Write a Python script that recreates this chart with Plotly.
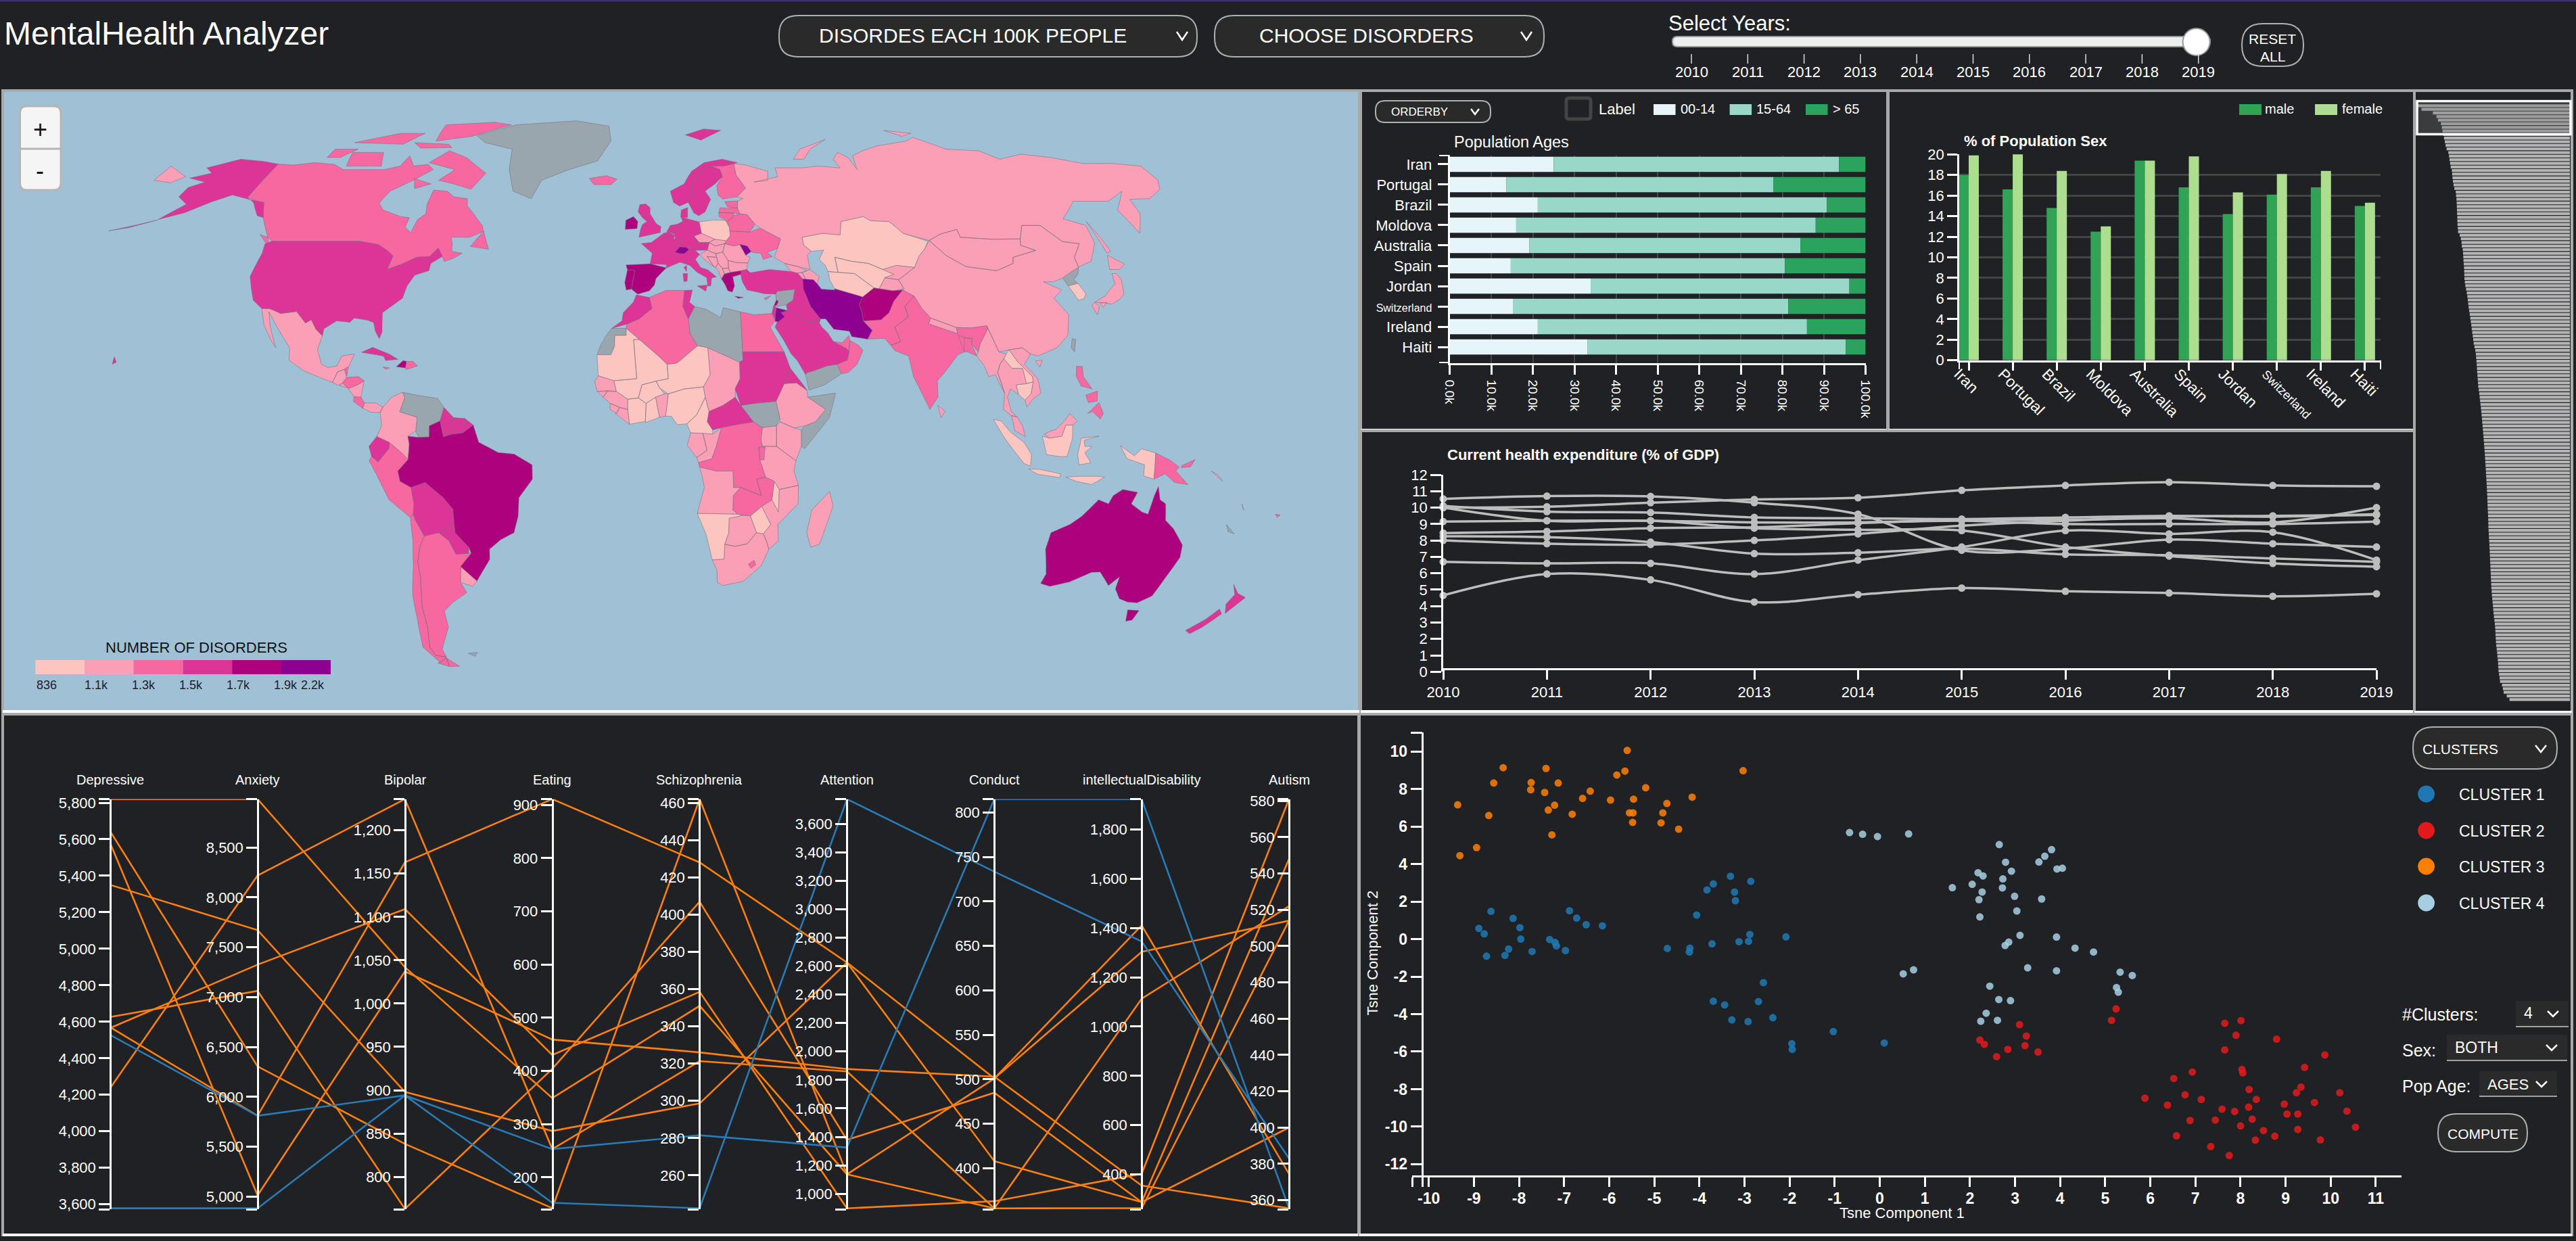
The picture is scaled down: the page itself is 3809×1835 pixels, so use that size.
import plotly.graph_objects as go

W = 3809
H = 1835
BG = "#202124"
FONT = "Liberation Sans"

# population ages
countries = ["Iran", "Portugal", "Brazil", "Moldova", "Australia", "Spain", "Jordan", "Switzerland", "Ireland", "Haiti"]
age_00_14 = [25.0, 13.6, 21.2, 16.0, 19.2, 14.7, 33.9, 15.2, 21.2, 33.1]
age_15_64 = [68.6, 64.2, 69.5, 72.0, 65.1, 65.9, 62.2, 66.2, 64.7, 62.1]
age_over_65 = [6.4, 22.2, 9.3, 12.0, 15.7, 19.4, 3.9, 18.6, 14.1, 4.8]
age_ticks = [0, 10, 20, 30, 40, 50, 60, 70, 80, 90, 100]
age_tick_labels = ["0.0k", "10.0k", "20.0k", "30.0k", "40.0k", "50.0k", "60.0k", "70.0k", "80.0k", "90.0k", "100.0k"]

# population sex
sex_male = [18.0, 16.6, 14.8, 12.5, 19.4, 16.8, 14.2, 16.1, 16.8, 15.0]
sex_female = [19.9, 20.1, 18.4, 13.0, 19.4, 19.8, 16.3, 18.1, 18.4, 15.3]

# health expenditure
years = [2010, 2011, 2012, 2013, 2014, 2015, 2016, 2017, 2018, 2019]
health_lines = [
    [10.0, 10.05, 10.3, 10.5, 10.6, 11.05, 11.35, 11.55, 11.35, 11.3],
    [10.53, 10.7, 10.68, 10.3, 9.6, 7.4, 7.5, 8.05, 7.8, 7.6],
    [10.1, 9.75, 9.7, 9.4, 9.35, 9.3, 9.4, 9.5, 9.45, 9.6],
    [10.0, 9.2, 9.2, 8.75, 8.65, 8.6, 7.6, 7.05, 6.6, 6.4],
    [9.15, 9.2, 9.2, 9.1, 9.1, 9.2, 9.0, 9.0, 9.0, 9.15],
    [8.45, 8.55, 8.75, 8.8, 9.05, 9.25, 9.25, 9.35, 9.1, 10.0],
    [8.25, 8.2, 7.9, 7.2, 7.25, 7.5, 7.15, 7.1, 6.9, 6.7],
    [8.0, 7.8, 7.75, 8.0, 8.4, 8.9, 9.2, 9.45, 9.5, 9.55],
    [6.7, 6.6, 6.6, 5.95, 6.8, 7.6, 8.6, 8.4, 8.5, 6.8],
    [4.65, 5.95, 5.6, 4.25, 4.7, 5.1, 4.9, 4.8, 4.6, 4.75],
]

# ranking at the right, one bar per country
ranking = [
    2200, 2136, 1973, 1921, 1899, 1857, 1844, 1834, 1825, 1812, 1801, 1790, 1775, 1750, 1740, 1733, 1724, 1716,
    1700, 1695, 1690, 1684, 1675, 1663, 1642, 1638, 1633, 1630, 1628, 1626, 1624, 1621, 1620, 1618, 1613, 1610,
    1586, 1570, 1560, 1556, 1542, 1538, 1535, 1532, 1528, 1524, 1522, 1520, 1518, 1512, 1506, 1495, 1484, 1476,
    1470, 1464, 1458, 1450, 1442, 1434, 1427, 1419, 1413, 1406, 1399, 1392, 1385, 1374, 1362, 1354, 1350, 1345,
    1341, 1338, 1335, 1331, 1327, 1323, 1320, 1312, 1305, 1299, 1293, 1287, 1281, 1276, 1271, 1266, 1262, 1257,
    1253, 1248, 1244, 1240, 1236, 1232, 1228, 1224, 1221, 1218, 1214, 1211, 1208, 1205, 1202, 1199, 1196, 1194,
    1191, 1189, 1187, 1185, 1183, 1180, 1178, 1176, 1175, 1173, 1171, 1168, 1165, 1162, 1159, 1157, 1154, 1152,
    1150, 1147, 1145, 1143, 1140, 1138, 1135, 1133, 1131, 1127, 1123, 1118, 1113, 1108, 1104, 1099, 1093, 1087,
    1081, 1076, 1073, 1071, 1068, 1065, 1060, 1054, 1048, 1044, 1038, 1034, 1031, 1027, 1020, 1012, 1006, 978,
    965, 954, 910, 870,
]

# parallel coordinates, one column per disorder
dimensions = ["Depressive", "Anxiety", "Bipolar", "Eating", "Schizophrenia", "Attention", "Conduct", "intellectualDisability", "Autism"]
dim_ranges = [[3573, 5820], [4873, 8985], [762.6, 1236], [140, 911], [241.8, 462], [892, 3773], [354, 815], [259, 1922.6], [355, 581]]
dim_ticks = [
    [3600, 3800, 4000, 4200, 4400, 4600, 4800, 5000, 5200, 5400, 5600, 5800],
    [5000, 5500, 6000, 6500, 7000, 7500, 8000, 8500],
    [800, 850, 900, 950, 1000, 1050, 1100, 1150, 1200],
    [200, 300, 400, 500, 600, 700, 800, 900],
    [260, 280, 300, 320, 340, 360, 380, 400, 420, 440, 460],
    [1000, 1200, 1400, 1600, 1800, 2000, 2200, 2400, 2600, 2800, 3000, 3200, 3400, 3600],
    [400, 450, 500, 550, 600, 650, 700, 750, 800],
    [400, 600, 800, 1000, 1200, 1400, 1600, 1800],
    [360, 380, 400, 420, 440, 460, 480, 500, 520, 540, 560, 580],
]
parallel_lines = [
    [5820, 8985, 1042, 349, 351, 1137, 501, 1410, 374.5],
    [5643, 6305, 838, 142, 462, 1137, 355, 1113, 522],
    [5578, 5012, 1037, 459, 326, 1877, 503, 355, 355.5],
    [5350, 7671, 898, 287, 298.6, 2625, 501, 1303, 514],
    [4626, 7062, 763, 404, 406.9, 1379, 485, 288, 400],
    [4566, 7325, 1109, 430, 358.5, 898, 363, 403, 581],
    [4570, 5810, 1163, 911, 428, 2625, 408, 288, 548],
    [4237, 8219, 1236, 253, 321.3, 1860, 355, 263, 514],
    [4528, 5810, 894, 253, 281.5, 1325, 815, 1922, 355.5],
    [3578, 4882, 894, 152, 242.3, 3773, 733.5, 1345, 383],
]
parallel_colors = ["#ff7f0e"] * 8 + ["#2a7ab5"] * 2

# tsne clusters
cluster_1_x = [-8.62, -8.89, -8.77, -8.72, -8.31, -8.23, -8.13, -7.98, -7.96, -7.71, -7.32, -7.20, -7.17, -6.97, -6.88, -6.72, -6.51, -6.15, -4.71, -4.21, -4.22, -4.06, -3.83, -3.69, -3.72, -3.31, -3.22, -3.20, -2.86, -2.88, -2.91, -3.12, -2.08, -3.69, -3.44, -3.28, -2.92, -2.69, -2.58, -2.37, -1.95, -1.94, -1.03, 0.10]
cluster_1_y = [1.48, 0.57, 0.28, -0.91, -0.87, -0.53, 1.10, 0.61, 0.0, -0.66, -0.02, -0.18, -0.36, -0.61, 1.51, 1.12, 0.77, 0.71, -0.50, -0.48, -0.69, 1.28, 2.62, 2.94, -0.25, 3.35, 2.51, 2.05, 3.08, 0.25, -0.12, -0.14, 0.12, -3.31, -3.51, -4.31, -4.40, -3.33, -2.32, -4.19, -5.58, -5.88, -4.93, -5.54]
cluster_2_x = [3.10, 3.25, 2.22, 2.32, 3.22, 2.84, 3.51, 2.59, 5.24, 5.14, 5.88, 6.38, 7.65, 8.01, 7.90, 8.80, 7.65, 9.87, 9.42, 8.03, 8.05, 6.52, 6.93, 8.19, 6.77, 7.13, 8.35, 9.34, 9.24, 10.20, 8.97, 9.64, 7.59, 7.87, 8.18, 9.03, 9.27, 10.36, 6.88, 7.44, 8.26, 8.00, 10.55, 8.51, 9.27, 6.58, 8.76, 8.33, 9.77, 7.34, 7.75]
cluster_2_y = [-4.56, -5.17, -5.38, -5.61, -5.68, -5.88, -6.02, -6.27, -3.72, -4.33, -8.48, -8.85, -4.49, -4.35, -5.13, -5.33, -5.91, -6.18, -6.84, -6.95, -7.13, -7.43, -7.09, -8.02, -8.30, -8.55, -8.55, -7.89, -8.19, -8.19, -8.80, -8.71, -9.07, -9.19, -8.96, -9.33, -9.33, -9.17, -9.67, -9.65, -9.60, -9.96, -10.03, -10.21, -10.15, -10.49, -10.51, -10.72, -10.71, -11.06, -11.54]
cluster_3_x = [-9.36, -9.31, -8.94, -8.67, -8.56, -8.35, -7.74, -7.73, -7.40, -7.43, -7.35, -7.27, -7.21, -7.13, -6.82, -6.59, -6.42, -5.97, -5.83, -5.65, -5.60, -5.55, -5.47, -5.46, -5.48, -5.19, -4.85, -4.81, -4.72, -4.46, -4.16, -3.03]
cluster_3_y = [7.16, 4.45, 4.88, 6.59, 8.32, 9.14, 7.96, 8.35, 9.10, 7.82, 6.88, 5.56, 7.14, 8.32, 6.66, 7.50, 7.89, 7.41, 8.75, 8.96, 10.06, 6.73, 6.73, 7.46, 6.22, 8.07, 6.20, 6.73, 7.23, 5.86, 7.57, 8.98]
cluster_4_x = [-0.67, -0.38, -0.05, 0.64, 2.65, 2.79, 3.81, 3.66, 3.53, 3.93, 4.05, 2.92, 2.18, 2.29, 2.73, 2.05, 1.61, 2.72, 2.27, 2.99, 2.20, 3.59, 3.04, 2.22, 3.11, 3.92, 2.86, 2.78, 4.33, 4.74, 3.28, 3.92, 0.75, 0.52, 5.33, 5.60, 2.44, 5.25, 5.29, 2.64, 2.90, 2.36, 2.24, 2.61]
cluster_4_y = [5.68, 5.59, 5.47, 5.61, 5.04, 4.10, 4.77, 4.42, 4.11, 3.74, 3.78, 3.62, 3.54, 3.37, 3.21, 2.92, 2.74, 2.73, 2.51, 2.28, 2.10, 2.14, 1.50, 1.18, 0.20, 0.11, -0.16, -0.34, -0.48, -0.69, -1.53, -1.69, -1.64, -1.85, -1.76, -1.94, -2.51, -2.58, -2.83, -3.22, -3.28, -3.95, -4.38, -4.33]
cluster_names = ["CLUSTER 1", "CLUSTER 2", "CLUSTER 3", "CLUSTER 4"]
cluster_colors = ["#1f78b4", "#e31a1c", "#ff7f00", "#a6cee3"]

# map legend
map_breaks = [836, 1100, 1300, 1500, 1700, 1900, 2200]
map_break_labels = ["836", "1.1k", "1.3k", "1.5k", "1.7k", "1.9k", "2.2k"]
map_colors = ["#fcc5c0", "#fa9fb5", "#f768a1", "#dd3497", "#ae017e", "#8e0090"]
map_missing = "#9aa6ae"

# number of disorders per country, None is no data
disorders = {
    "CAN": 1400, "USA": 1600, "MEX": 1200, "GTM": 1200, "BLZ": 1300, "HND": 1400, "SLV": 1200, "NIC": 1200, "CRI": 1400, "PAN": 1200,
    "CUB": 1600, "HTI": 1850, "DOM": 1400, "JAM": 1400, "GRL": None, "ISL": 1400, "COL": 1200, "VEN": None, "GUY": 1600, "SUR": 1600,
    "GUF": 1600, "ECU": 1600, "PER": 1400, "BOL": 1600, "BRA": 1800, "PRY": 1600, "URY": 1200, "ARG": 1400, "CHL": 1400, "FLK": None,
    "NOR": 1600, "SWE": 1600, "FIN": 1400, "DNK": 1600, "GBR": 1600, "IRL": 1800, "FRA": 1600, "ESP": 1800, "PRT": 1800, "BEL": 1600,
    "NLD": 1600, "DEU": 1600, "CHE": 2000, "AUT": 1600, "ITA": 1600, "POL": 1000, "CZE": 1200, "SVK": 1200, "HUN": 1200, "HRV": 1200,
    "BIH": 1200, "SRB": 1200, "ALB": 1200, "MKD": 1200, "GRC": 1800, "BGR": 1200, "ROU": 1200, "MDA": 2000, "UKR": 1400, "BLR": 1400,
    "LTU": 1400, "LVA": 1400, "EST": 1400, "RUS": 1200, "GEO": 1200, "AZE": 1200, "ARM": 1200, "TUR": 1600, "CYP": 1400,
    "KAZ": 1000, "UZB": 1000, "TKM": 1000, "KGZ": 1200, "TJK": 1200, "AFG": 1800, "IRN": 2100, "PAK": 1400, "IND": 1400, "NPL": 1200,
    "BTN": 1200, "BGD": 1400, "LKA": 1200, "CHN": 1200, "TWN": None, "MNG": 1200, "PRK": None, "KOR": 1000, "JPN": 1200, "MMR": 1200,
    "THA": 1200, "LAO": 1000, "VNM": 1200, "KHM": 1000, "MYS": 1200, "IDN": 1000, "PHL": 1400, "PNG": 1400, "AUS": 1800, "NZL": 1600,
    "NCL": None, "SLB": 1200, "FJI": 1400, "VUT": 1200, "SAU": 1600, "YEM": None, "OMN": 1400, "ARE": 1400, "KWT": 1600, "IRQ": 1600,
    "SYR": None, "LBN": 1800, "ISR": 1600, "JOR": 2000, "MAR": 1600, "ESH": None, "DZA": 1400, "TUN": 1600, "LBY": None, "EGY": 1400,
    "SDN": 1600, "SSD": None, "ERI": 1600, "ETH": 1200, "SOM": None, "KEN": 1200, "UGA": 1200, "RWA": 1400, "TZA": 1200, "CAF": 1600,
    "TCD": 1200, "NER": 1000, "MLI": 1000, "MRT": 1000, "SEN": 1200, "GNB": 1200, "GIN": 1200, "SLE": 1200, "LBR": 1200, "CIV": 1000,
    "BFA": 1000, "GHA": 1000, "TGO": 1200, "NGA": 1000, "CMR": 1000, "GAB": 1200, "COG": 1200, "COD": 1400, "AGO": 1200, "ZMB": 1400,
    "MWI": 1000, "MOZ": 1200, "ZWE": 1000, "NAM": 1000, "BWA": 1200, "ZAF": 1200, "LSO": 1400, "MDG": 1200,
}

# simplified country outlines (lon, lat)
outlines = {
    "CAN": [[(-141, 69.6), (-135, 69.3), (-128, 70), (-120, 69.5), (-115, 68), (-108, 68), (-100, 68), (-95, 69), (-94, 72), (-90, 69), (-85, 69.5), (-82, 68), (-87, 65), (-93, 62), (-94.5, 58.8), (-92, 57), (-85, 55.3), (-82, 55), (-82, 52.5), (-79.5, 51.2), (-79, 54.5), (-77, 56), (-78, 58.5), (-78, 62.3), (-73, 62), (-70, 60.5), (-65, 60), (-64, 58), (-61, 56), (-57, 53), (-56, 51.5), (-60, 50), (-66, 50), (-65, 48.5), (-64.5, 46.5), (-61, 46), (-63.5, 44.7), (-66, 44), (-67, 45.2), (-69, 47.3), (-71, 45.2), (-75, 45), (-79, 43.3), (-83, 42), (-82.5, 45.3), (-84.5, 46.5), (-88.5, 48.2), (-95, 49), (-123, 49), (-125, 50), (-130, 54.5), (-135, 59), (-141, 60.3)],
            [(-80, 73.5), (-72, 71.5), (-62, 67), (-65, 62.5), (-72, 64), (-78, 65), (-74, 68), (-85, 70)], [(-117, 73), (-105, 73), (-102, 69), (-115, 69)], [(-90, 82), (-70, 83), (-62, 82), (-75, 78), (-88, 76.5)], [(-125, 74), (-116, 74), (-120, 71.5), (-125, 71.5)], [(-96, 76), (-82, 75.5), (-80, 74.5), (-92, 74.3)], [(-59, 47.7), (-56, 51.5), (-53, 47)], [(-128, 50.7), (-125, 50), (-123.5, 48.4), (-125, 48.8)], [(-120, 76), (-105, 79), (-95, 79), (-100, 75.5)], [(-87, 65.5), (-80, 64), (-85, 62.7)]],
    "USA": [[(-124.7, 48.4), (-123, 49), (-95, 49), (-88.5, 48.2), (-84.5, 46.5), (-82.5, 45.3), (-83, 42), (-79, 43.3), (-75, 45), (-71, 45.2), (-69, 47.3), (-67, 45.2), (-70, 43.5), (-70, 41.7), (-74, 40.6), (-75.5, 38), (-76, 35), (-81, 31.5), (-80, 26.8), (-80.5, 25.2), (-82, 27), (-83, 29.1), (-85, 29.7), (-89, 30.2), (-90, 29.2), (-94, 29.5), (-97.2, 27.6), (-97.2, 25.9), (-99.5, 27.5), (-101.5, 29.8), (-103, 29), (-106.5, 31.8), (-111, 31.3), (-114.8, 32.5), (-117.1, 32.5), (-120.5, 34.5), (-122.5, 37.5), (-124.3, 40.3), (-124, 46)],
            [(-141, 69.6), (-148, 70.4), (-157, 71), (-166, 68.5), (-162, 67), (-168, 65.6), (-161, 64.5), (-165, 63), (-165, 60.5), (-160, 58.5), (-165, 54.5), (-158, 56.3), (-152, 59.2), (-147, 61), (-140, 59.8), (-134, 59), (-130.5, 55), (-133, 55.5), (-137.5, 58.9), (-141, 60.3)],
            [(-165, 54.4), (-172, 52.5), (-178, 51.6), (-172, 52.8)], [(-156, 20.8), (-155, 19.5), (-156, 19)]],
    "MEX": [[(-117.1, 32.5), (-114.8, 32.5), (-111, 31.3), (-106.5, 31.8), (-103, 29), (-101.5, 29.8), (-99.5, 27.5), (-97.2, 25.9), (-97.8, 22.5), (-96, 19), (-94, 18.2), (-91.5, 18.6), (-90.5, 21), (-87, 21.5), (-88, 18.5), (-89, 17.8), (-91, 17.2), (-92.2, 14.6), (-96, 15.8), (-101, 17.5), (-105.5, 20), (-106, 23), (-109, 26), (-112.5, 29.5), (-114.7, 31.7), (-113, 28), (-110, 23), (-112, 25), (-115, 28.5)]],
    "GTM": [[(-92.2, 14.6), (-91, 17.2), (-89.2, 17.8), (-88.3, 15.8), (-89.3, 14.4), (-90.5, 13.9)]],
    "BLZ": [[(-89.2, 17.9), (-88.2, 18.4), (-88.3, 16.2)]],
    "HND": [[(-89.3, 14.4), (-88.3, 15.8), (-85, 16), (-83.2, 15), (-85, 14), (-87.5, 13.1)]],
    "SLV": [[(-90.1, 13.8), (-89.3, 14.4), (-87.7, 13.3)]],
    "NIC": [[(-87.5, 13.1), (-85, 14), (-83.2, 15), (-83.7, 11), (-85.7, 11.1)]],
    "CRI": [[(-85.7, 11.1), (-83.7, 11), (-82.6, 9.6), (-83, 8.3), (-85.7, 9.9)]],
    "PAN": [[(-83, 8.3), (-82.6, 9.6), (-79.5, 9.6), (-77.3, 8.6), (-78, 7.3), (-80.5, 7.3)]],
    "CUB": [[(-85, 21.9), (-82, 23.1), (-77, 21.5), (-74.2, 20.2), (-77.7, 19.9), (-78.5, 21)]],
    "HTI": [[(-74.4, 18.4), (-72.7, 19.9), (-71.7, 19.7), (-71.8, 18.1)]],
    "DOM": [[(-71.7, 19.7), (-69.8, 19.7), (-68.4, 18.6), (-71.5, 17.7), (-71.8, 18.1)]],
    "JAM": [[(-78.3, 18.4), (-76.3, 18.1), (-77.5, 17.8)]],
    "GRL": [[(-73, 78.2), (-60, 82), (-35, 83.6), (-20, 81.5), (-18, 76.5), (-22, 70.5), (-32, 68), (-41, 65), (-43, 60), (-50, 62), (-54, 68), (-56, 74), (-68, 76)]],
    "ISL": [[(-24, 65.5), (-18, 66.3), (-14, 65.3), (-16, 63.8), (-22, 63.8)]],
    "COL": [[(-77.3, 8.6), (-75, 11), (-72, 12.2), (-71.3, 10.9), (-72.5, 7.4), (-67.5, 6.1), (-67.8, 2.8), (-70, 1.5), (-69.6, -0.5), (-70, -4.2), (-72, -2.4), (-75.3, 0), (-78.8, 1.4), (-77.5, 4), (-78, 7.3)]],
    "VEN": [[(-72, 12.2), (-68, 11.5), (-62, 10.7), (-60, 8.5), (-61, 5.2), (-64, 4), (-64, 1.3), (-67, 1.2), (-67.8, 2.8), (-67.5, 6.1), (-72.5, 7.4), (-71.3, 10.9)]],
    "GUY": [[(-60, 8.5), (-57.2, 6), (-58, 1.9), (-60, 1.3), (-61, 5.2)]],
    "SUR": [[(-57.2, 6), (-54, 5.8), (-54.5, 2.3), (-58, 1.9)]],
    "GUF": [[(-54, 5.8), (-51.6, 4.2), (-54.5, 2.3)]],
    "ECU": [[(-78.8, 1.4), (-75.3, 0), (-75.3, -1.5), (-78.5, -4.8), (-80.3, -3.4), (-81, -1)]],
    "PER": [[(-81, -4.5), (-80.3, -3.4), (-78.5, -4.8), (-75.3, -1.5), (-75.3, 0), (-72, -2.4), (-70, -4.2), (-73, -7), (-72.5, -9.5), (-69.5, -11), (-69, -15), (-69.5, -17.5), (-70.4, -18.3), (-76, -14), (-79, -8)]],
    "BOL": [[(-69.5, -11), (-65.4, -9.8), (-60.5, -13.5), (-58, -16.3), (-58, -19.8), (-62.7, -22), (-67, -22.8), (-69, -19), (-69.5, -17.5), (-69, -15)]],
    "BRA": [[(-61, 5.2), (-60, 1.3), (-58, 1.9), (-54.5, 2.3), (-51.6, 4.2), (-50, 0), (-44.5, -2.5), (-40, -2.9), (-35, -5.5), (-35, -9), (-39, -13.5), (-39.5, -18), (-41, -22), (-45, -23.7), (-48.5, -26), (-48.8, -28.5), (-53.4, -33.7), (-57.6, -30.2), (-54, -27), (-54.5, -25.5), (-58, -22), (-58, -16.3), (-60.5, -13.5), (-65.4, -9.8), (-69.5, -11), (-72.5, -9.5), (-73, -7), (-70, -4.2), (-69.6, -0.5), (-70, 1.5), (-67, 1.2), (-64, 1.3), (-64, 4)]],
    "PRY": [[(-62.7, -22), (-58, -19.8), (-58, -22), (-54.5, -25.5), (-54.7, -27), (-58.5, -27.2), (-60, -24)]],
    "URY": [[(-57.6, -30.2), (-53.4, -33.7), (-55, -35), (-58.4, -34)]],
    "ARG": [[(-67, -22.8), (-62.7, -22), (-60, -24), (-58.5, -27.2), (-54.7, -27), (-54, -27), (-57.6, -30.2), (-58.4, -34), (-57, -36.5), (-62, -39), (-65, -41), (-65, -45), (-69, -50.5), (-68.5, -52.5), (-71.8, -52), (-72.8, -50), (-71.5, -45), (-71.5, -40), (-70, -33), (-70, -29), (-68.5, -25)], [(-68.6, -52.7), (-65.2, -54.8), (-68.6, -54.9)]],
    "CHL": [[(-70.4, -18.3), (-69.5, -17.5), (-69, -19), (-67, -22.8), (-68.5, -25), (-70, -29), (-70, -33), (-71.5, -40), (-71.5, -45), (-72.8, -50), (-71.8, -52), (-68.5, -52.5), (-71, -54), (-75, -50), (-74, -43), (-73.5, -37), (-71.5, -30), (-70.5, -24)], [(-68.6, -52.7), (-68.6, -54.9), (-72, -54)]],
    "FLK": [[(-61, -51.5), (-58, -51.3), (-59, -52.3)]],
    "NOR": [[(5, 62), (6, 59), (8, 58), (11, 59), (12.3, 61), (12.5, 64), (15, 66), (18, 68.5), (20.5, 69), (25, 69), (29, 69.7), (30.5, 70), (25, 71), (18, 70), (13, 67.5), (10, 64)], [(12, 78.5), (20, 80.5), (27, 80), (18, 76.8)]],
    "SWE": [[(11, 59), (12.7, 56.2), (14.3, 55.5), (16.5, 56.5), (18.8, 59.8), (17.2, 62), (21, 64), (24, 66), (23.5, 68), (20.5, 69), (18, 68.5), (15, 66), (12.5, 64), (12.3, 61)]],
    "FIN": [[(24, 66), (21.5, 63.5), (21.5, 61), (23, 59.9), (28, 60.5), (31.5, 62.8), (29, 66.5), (29, 69.7), (25, 69), (20.5, 69), (23.5, 68)]],
    "DNK": [[(8.2, 55), (8.5, 57), (10.7, 57.6), (10.5, 55)]],
    "GBR": [[(-5.5, 50), (1.4, 51.2), (1.6, 52.7), (0, 53.5), (-2, 56), (-2, 57.6), (-3.5, 58.6), (-5.5, 58.4), (-6, 56.5), (-4.5, 55), (-3, 54), (-4.5, 53.2), (-5, 52)]],
    "IRL": [[(-10, 52), (-6.2, 52.2), (-6, 54), (-7.5, 55.3), (-10, 54.3)]],
    "FRA": [[(-4.7, 48.4), (-1.5, 48.7), (2.5, 51), (4.2, 50), (8.2, 49), (7.6, 47.6), (6, 46.3), (7.5, 45.9), (7.5, 43.8), (3.2, 42.4), (3.2, 43.2), (-1.8, 43.4), (-1.2, 46)], [(8.6, 42.5), (9.5, 43), (9.4, 41.5)]],
    "ESP": [[(-9.3, 43.1), (-1.8, 43.4), (3.2, 42.4), (0, 39.8), (-0.5, 38.2), (-2, 36.8), (-5.5, 36), (-7.4, 37.2), (-7, 39.5), (-6.5, 41.8), (-8.8, 41.9)]],
    "PRT": [[(-8.8, 41.9), (-6.5, 41.8), (-7, 39.5), (-7.4, 37.2), (-9, 37), (-9.5, 38.8)]],
    "BEL": [[(2.5, 51), (4.2, 51.4), (6, 50.5), (5.7, 49.5), (4.2, 50)]],
    "NLD": [[(3.5, 51.4), (4.7, 53), (7, 53.3), (6, 50.8), (4.2, 51.4)]],
    "DEU": [[(6, 50.8), (7, 53.3), (8.8, 54), (8.5, 55), (10, 54.8), (14.2, 53.9), (14.7, 51), (12.2, 50.3), (13.8, 48.7), (13, 47.5), (7.6, 47.6), (8.2, 49), (6.2, 49.5)]],
    "CHE": [[(6, 46.3), (7.6, 47.6), (9.6, 47.5), (10.4, 46.9), (9, 45.9), (7.5, 45.9)]],
    "AUT": [[(9.6, 47.5), (13, 47.5), (13.8, 48.7), (17, 48.7), (16.2, 46.8), (12.4, 46.7), (10.4, 46.9)]],
    "ITA": [[(7.5, 43.8), (7.5, 45.9), (9, 45.9), (10.4, 46.9), (12.4, 46.7), (13.7, 45.7), (12.3, 44.5), (13.8, 42.5), (16, 41.9), (18.5, 40.2), (17, 39.9), (16.6, 38), (15.7, 38), (15.5, 40), (12.5, 41.4), (10.5, 43)], [(12.5, 38), (15.6, 38.2), (15, 36.7)], [(8.3, 41), (9.7, 41), (9.5, 39.2), (8.5, 39)]],
    "POL": [[(14.2, 53.9), (19, 54.4), (23, 54.3), (24, 52.5), (24, 50.4), (22.5, 49.1), (18.8, 49.5), (14.7, 51)]],
    "CZE": [[(12.2, 50.3), (14.7, 51), (18.8, 49.5), (17, 48.7), (13.8, 48.7)]],
    "SVK": [[(17, 48.7), (18.8, 49.5), (22.5, 49.1), (22, 48.4), (18.8, 47.8)]],
    "HUN": [[(16.2, 46.8), (17, 48.7), (18.8, 47.8), (22, 48.4), (21, 46.3), (18.8, 45.9)]],
    "HRV": [[(13.7, 45.7), (16.2, 46.8), (18.8, 45.9), (19, 45), (16, 45.2), (18, 42.6), (15, 44.5), (14.3, 45.3)]],
    "BIH": [[(16, 45.2), (19, 45), (19.3, 43.5), (18.5, 42.6), (18, 42.6)]],
    "SRB": [[(19, 45), (18.8, 45.9), (21, 46.3), (22.5, 44.2), (22.4, 42.3), (20.5, 42.3), (19.3, 43.5)]],
    "ALB": [[(18.5, 42.6), (19.3, 43.5), (20.5, 42.3), (21, 40.9), (20, 39.7), (19.3, 41.5)]],
    "MKD": [[(20.5, 42.3), (22.4, 42.3), (23, 41.3), (21, 40.9)]],
    "GRC": [[(20, 39.7), (21, 40.9), (23, 41.3), (26.3, 41.7), (26, 40.8), (23.5, 40.2), (23.8, 38), (23, 36.5), (21.7, 36.8), (21, 38.3)], [(23.6, 35.5), (26.2, 35.2), (24.7, 34.95)]],
    "BGR": [[(22.4, 42.3), (22.5, 44.2), (25, 43.7), (28.5, 43.6), (28, 42), (26.3, 41.7), (23, 41.3)]],
    "ROU": [[(21, 46.3), (22, 48.4), (24.8, 47.8), (26.7, 48.2), (28.2, 45.5), (29.5, 45), (28.5, 43.6), (25, 43.7), (22.5, 44.2)]],
    "MDA": [[(26.7, 48.2), (29, 47.8), (30, 46.4), (28.2, 45.5)]],
    "UKR": [[(22.5, 49.1), (24, 50.4), (24, 51.6), (30.5, 51.3), (34, 52.3), (40, 49.6), (38.5, 47.2), (35, 46.2), (36.5, 45.2), (33.5, 44.5), (33, 46), (30.5, 46.2), (30, 46.4), (29, 47.8), (26.7, 48.2), (24.8, 47.8), (22, 48.4)]],
    "BLR": [[(24, 52.5), (23.5, 53.9), (26, 55.5), (28, 56), (30.5, 55.7), (32.5, 53.3), (30.5, 51.3), (24, 51.6)]],
    "LTU": [[(21, 55.3), (21, 56.3), (26, 56.2), (26, 55.5), (23.5, 53.9), (22.8, 54.4)]],
    "LVA": [[(21, 56.3), (21.7, 57.6), (24.3, 57.5), (27.5, 57.5), (28, 56), (26, 56.2)]],
    "EST": [[(23.5, 59.2), (28, 59.4), (27.5, 57.5), (24.3, 57.8)]],
    "RUS": [[(28, 59.4), (30, 60), (28, 60.5), (31.5, 62.8), (29, 66.5), (29, 69.7), (33, 69.4), (41, 67.5), (40, 65), (35, 64.5), (44, 66), (44, 68.5), (54, 68.5), (60, 69), (68, 68.5), (67, 71), (70, 73), (73, 71.5), (74, 68), (75, 72), (80, 73.5), (87, 75), (100, 76.5), (104, 77.7), (113, 74), (125, 73.5), (130, 71), (140, 72.5), (150, 71.5), (160, 69.7), (170, 69.8), (179.99, 69), (179.99, 65), (177, 62.5), (170, 60), (163, 59.8), (162, 56), (156.7, 51), (155.5, 57), (163, 62), (155, 59.3), (143, 59.3), (135, 54.7), (141, 53), (140, 48.5), (135.5, 44), (131, 42.7), (130.7, 42.5), (131, 45), (135, 48.4), (130, 48.9), (126, 53), (120, 53), (117, 49.6), (108, 49.5), (98, 50), (98, 52), (92, 50.8), (87.5, 49.2), (80, 51), (77, 54), (71, 54.2), (69, 55.3), (61, 54), (59.5, 50.6), (54, 51), (47, 50), (47, 48), (49, 46.5), (47.5, 45.5), (47.5, 42), (44, 42.7), (40, 43.5), (37, 45), (38.5, 47.2), (40, 49.6), (34, 52.3), (32.5, 53.3), (30.5, 55.7), (28, 56), (27.5, 57.5)],
            [(-179.99, 69), (-175, 67.5), (-170, 66), (-173, 64.3), (-179.99, 65)], [(52, 71), (56, 74), (68, 77), (60, 74), (56, 71)], [(142, 54), (143, 50), (143.5, 46.5), (142, 46), (142, 50)], [(95, 80), (105, 79), (100, 78)]],
    "GEO": [[(40, 43.5), (44, 42.7), (46.5, 41.7), (43.5, 41.1), (41.5, 41.5)]],
    "AZE": [[(45, 41.2), (46.5, 41.7), (47.5, 42), (50, 40.3), (49, 38.5), (46, 39)]],
    "ARM": [[(43.5, 41.1), (45, 41.2), (46, 39), (44.8, 39.7)]],
    "TUR": [[(26, 40.8), (26.3, 41.7), (28, 42), (29, 41.2), (35, 42), (41.5, 41.5), (43.5, 41.1), (44.8, 39.7), (44.5, 37.2), (42, 37.2), (36.5, 36.7), (36, 36), (32.5, 36.1), (30.5, 36.5), (27.5, 37), (26.3, 39)]],
    "CYP": [[(32.4, 35), (34.5, 35.6), (33, 34.6)]],
    "KAZ": [[(47, 50), (54, 51), (59.5, 50.6), (61, 54), (69, 55.3), (71, 54.2), (77, 54), (80, 51), (87, 49), (85, 47), (82.5, 45.3), (80, 42.5), (74.5, 43), (70, 42), (66, 43.5), (61, 44), (56, 45), (56, 41.3), (53, 41.5), (52.5, 43), (51, 44.5), (53, 46.8), (49, 46.5), (47, 48)]],
    "UZB": [[(56, 45), (61, 44), (66, 43.5), (70, 42), (73, 40.8), (70, 40), (67.5, 37.3), (66, 37.5), (61, 41), (56, 41.3)]],
    "TKM": [[(53, 41.5), (56, 41.3), (61, 41), (66, 37.5), (62, 35.3), (54, 37.3), (53, 39.5)]],
    "KGZ": [[(70, 42), (74.5, 43), (80, 42.5), (74, 39.5), (70, 40), (73, 40.8)]],
    "TJK": [[(67.5, 37.3), (70, 40), (74, 39.5), (75, 37.3), (71.5, 36.8)]],
    "AFG": [[(62, 35.3), (66, 37.5), (67.5, 37.3), (71.5, 36.8), (74.5, 37), (71, 34.2), (69, 31.5), (66.3, 29.8), (61, 29.5), (61, 31.5), (60.6, 33.5)]],
    "IRN": [[(44.8, 39.7), (48, 39.5), (49, 38.5), (50, 37.2), (54, 37), (54, 37.3), (62, 35.3), (60.6, 33.5), (61, 31.5), (61, 29.5), (63.2, 27.2), (61.5, 25.1), (57, 25.7), (56.5, 27), (52, 27.5), (50, 30), (48.5, 30), (46, 33), (45, 36), (44.5, 37.2)]],
    "PAK": [[(61, 29.5), (66.3, 29.8), (69, 31.5), (71, 34.2), (74.5, 37), (77.5, 35.5), (74, 33), (74.5, 30.5), (70, 28), (71, 24.5), (68, 23.6), (66.5, 25.3), (61.5, 25.1), (63.2, 27.2)]],
    "IND": [[(74, 33), (77.5, 35.5), (79, 32.5), (81, 30.2), (80, 28.8), (88, 26.4), (88, 27.9), (92, 27.8), (97, 28.3), (97, 27.5), (94, 24), (93, 22), (91.5, 24), (92, 25.2), (89.8, 25.5), (89, 22), (87, 21.3), (82, 16.5), (80.2, 15), (80, 11), (77.5, 8), (76, 11), (73.5, 16), (72.8, 21), (69, 22.3), (68, 23.6), (71, 24.5), (70, 28), (74.5, 30.5)]],
    "NPL": [[(80, 28.8), (81, 30.2), (88, 27.9), (88, 26.4)]],
    "BTN": [[(88.8, 27.3), (92, 27.8), (92, 26.8)]],
    "BGD": [[(88, 26), (89.8, 25.5), (92, 25.2), (91.5, 24), (92.4, 21), (90, 22), (89, 22)]],
    "LKA": [[(79.8, 9), (81.8, 7.5), (80.5, 6)]],
    "CHN": [[(74, 39.5), (80, 42.5), (82.5, 45.3), (85, 47), (87.5, 49.2), (91, 45.5), (96, 42.7), (105, 41.7), (111, 43.5), (111.8, 45), (120, 46.7), (116, 48), (117, 49.6), (120, 53), (126, 53), (130, 48.9), (135, 48.4), (131, 45), (130.7, 42.5), (128, 41.5), (124.3, 39.9), (121, 39), (118, 39), (122.5, 37), (119.3, 35), (122, 31), (120, 26), (116, 23), (110, 21), (108, 21.5), (106, 23), (102, 22.5), (99, 22), (98, 25), (97, 28.3), (92, 27.8), (88, 27.9), (81, 30.2), (79, 32.5), (77.5, 35.5), (74.5, 37), (75, 37.3)], [(109, 19.8), (111, 20), (110, 18.3)]],
    "TWN": [[(121, 25.2), (122, 25), (120.8, 22), (120.1, 23)]],
    "MNG": [[(87.5, 49.2), (92, 50.8), (98, 52), (98, 50), (108, 49.5), (117, 49.6), (116, 48), (120, 46.7), (111.8, 45), (111, 43.5), (105, 41.7), (96, 42.7), (91, 45.5)]],
    "PRK": [[(124.3, 39.9), (128, 41.5), (130.7, 42.5), (129.5, 40.8), (127.5, 39.5), (128.3, 38.6), (125, 38)]],
    "KOR": [[(125, 38), (128.3, 38.6), (129.4, 36), (128, 34.8), (126.4, 34.5)]],
    "JPN": [[(130.9, 34), (135, 35.6), (137, 37), (139.5, 38.5), (140, 41), (141.5, 41), (142, 39.5), (140.8, 36), (138.8, 34.7), (136, 33.6), (132.5, 34)], [(140, 42), (141.7, 45.5), (145.5, 43.3), (143, 42)], [(129.8, 33.3), (131, 34), (132, 33), (130.5, 31)], [(132.5, 33.8), (134.7, 34), (133, 32.8)]],
    "MMR": [[(92.4, 21), (93, 22), (94, 24), (97, 27.5), (97, 28.3), (98, 25), (99, 22), (101, 21.5), (100, 20.3), (98.7, 19), (97.7, 17), (99, 12), (98, 14), (97, 16.5), (95, 16), (94.2, 18.5)]],
    "THA": [[(97.7, 17), (98.7, 19), (100, 20.3), (102, 18), (105, 18), (105.5, 14.3), (102.5, 14), (102.9, 11.7), (100.8, 13), (99.7, 11), (100.5, 7.5), (102, 6.2), (100.5, 6.5), (98.3, 8), (99, 12)]],
    "LAO": [[(101, 21.5), (102, 22.5), (104, 19.5), (107.5, 16), (107.5, 14.7), (105.5, 14.3), (105, 18), (102, 18), (100, 20.3)]],
    "VNM": [[(102, 22.5), (106, 23), (108, 21.5), (105.7, 19), (108.9, 15.5), (109.3, 12), (106.8, 10.5), (105, 8.6), (104.6, 10.3), (106.5, 11.8), (107.5, 14.7), (107.5, 16), (104, 19.5)]],
    "KHM": [[(102.9, 11.7), (102.5, 14), (105.5, 14.3), (107.5, 14.7), (106.5, 11.8), (104.6, 10.3)]],
    "MYS": [[(100.5, 6.5), (102, 6.2), (103.5, 4), (104.2, 1.4), (101.3, 2.8)], [(109.6, 2), (111.5, 2.8), (113, 3.2), (115.5, 5.3), (117, 7), (119, 5.2), (117.7, 4.2), (115.7, 4.2), (114.5, 1.5), (111, 1)]],
    "IDN": [[(95.3, 5.6), (97.5, 5.2), (100, 2.5), (103.8, 0), (106, -3), (105.8, -5.8), (104, -5.2), (100.5, -1.5), (98, 1.5)], [(105.3, -6.5), (108.5, -6.6), (114.5, -7.7), (114.3, -8.6), (108, -7.8)], [(109, 1.5), (111, 1), (114.5, 1.5), (115.7, 4.2), (117.7, 4.2), (117.5, 1), (116, -3.5), (114, -3.5), (110.2, -3)], [(119.5, -5.5), (119, -3), (120, 1), (125, 1.5), (120.8, 0.5), (121, -1), (123, -1), (121, -2.5), (122.8, -5)], [(131, -0.8), (135, -3.3), (137, -1.6), (141, -2.6), (141, -9), (138, -8.2), (138, -5.5), (133, -4)], [(116, -8.5), (119, -8.3), (125, -8.3), (127, -8.5), (123.5, -10.3), (119, -9.5)]],
    "PHL": [[(120.5, 18.5), (122.2, 18.5), (122, 16), (124, 13), (121, 13.7), (120, 16)], [(122, 7), (125.5, 9.7), (126.5, 7), (125.5, 5.7), (123.5, 7.5)], [(122, 11.5), (125.5, 12.5), (125, 10), (122.5, 9.7)]],
    "PNG": [[(141, -2.6), (145, -4.3), (147.8, -6), (147, -7), (150.8, -10.3), (147, -9.8), (144, -7.7), (141, -9)], [(148.5, -5.7), (152.2, -4.2), (151, -6), (148.5, -6.2)]],
    "AUS": [[(114, -22), (113.5, -26), (115.7, -32), (115, -34.3), (118, -35), (123.5, -33.9), (129, -31.6), (131.5, -31.5), (135.5, -34.8), (137.8, -32.7), (138, -35.6), (140.5, -38), (143.5, -38.8), (146.5, -39), (150, -37.3), (151.5, -33), (153.5, -28), (153, -25), (149, -21), (146.2, -19), (145.3, -15), (143.5, -14), (142.5, -10.8), (141.7, -13), (140.8, -17.5), (139, -17), (135.5, -15), (136.8, -12.2), (132.5, -11.5), (130, -13), (129, -15), (126, -14), (122, -18), (119, -20)], [(144.7, -40.7), (148.3, -40.9), (147.8, -43.2), (146, -43.5)]],
    "NZL": [[(172.8, -34.5), (175.5, -36.7), (178.5, -37.7), (177, -39.5), (175.3, -41.6), (173.8, -39.3), (174.8, -37)], [(172.7, -40.5), (174.3, -41.7), (171, -45), (168.5, -46.6), (166.5, -45.8), (170.5, -43)]],
    "NCL": [[(164, -20), (167, -22.3), (165, -21.7)]],
    "SLB": [[(157, -7), (160.5, -9.5), (159, -8)]],
    "FJI": [[(177.3, -17.5), (178.7, -17.7), (178, -18.3)]],
    "VUT": [[(167, -15), (168, -16.5), (167.5, -16)]],
    "SAU": [[(34.9, 28), (37, 31.5), (39, 32), (44.7, 29.2), (48, 29), (48.6, 28), (50.2, 26.5), (51.5, 24.5), (55.2, 22.7), (55.7, 22), (55, 20), (52, 19), (49, 18.6), (45, 17.4), (43.2, 17), (42.7, 16.5), (40.7, 19.8), (39, 21.5), (37, 25)]],
    "YEM": [[(43.2, 17), (45, 17.4), (49, 18.6), (52, 19), (53, 16.7), (48, 14), (43.5, 12.7), (42.7, 16.5)]],
    "OMN": [[(55, 20), (55.7, 22), (56.3, 24.8), (58.7, 23.6), (59.8, 22.4), (57.7, 19), (55, 17), (53, 16.7), (52, 19)]],
    "ARE": [[(51.5, 24.5), (54, 24.2), (56.2, 26), (56.3, 24.8), (55.7, 22), (55.2, 22.7)]],
    "KWT": [[(46.6, 29.1), (48, 29), (48.5, 30)]],
    "IRQ": [[(38.8, 33.4), (41, 34.5), (42, 37.2), (44.5, 37.2), (45, 36), (46, 33), (48.5, 30), (46.6, 29.1), (44.7, 29.2), (39, 32)]],
    "SYR": [[(36, 36), (36.5, 36.7), (42, 37.2), (41, 34.5), (38.8, 33.4), (36, 33)]],
    "LBN": [[(35.1, 33.1), (36, 34.6), (36.6, 34.2), (35.9, 33.3)]],
    "ISR": [[(34.3, 31.3), (35, 33.2), (35.7, 33), (35.2, 29.6)]],
    "JOR": [[(35, 29.4), (35.7, 32.7), (39, 32), (37, 31.5), (38, 30.5), (36, 29.3)]],
    "MAR": [[(-5.9, 35.8), (-2, 35.2), (-1.2, 32.5), (-5, 30), (-8.7, 28.7), (-13, 27.7), (-10, 29.5), (-9.7, 31.5), (-6.8, 34)]],
    "ESH": [[(-13, 27.7), (-8.7, 27.7), (-8.7, 26), (-12, 26), (-12, 23.4), (-13, 21.3), (-17, 21.3), (-16, 23.7), (-14.5, 26)]],
    "DZA": [[(-2, 35.2), (3, 36.9), (8.6, 36.9), (8, 33), (9.5, 30), (9.9, 26.5), (12, 23.5), (6, 19.3), (3.2, 19), (1, 20.8), (-4.8, 25), (-8.7, 27.7), (-8.7, 28.7), (-5, 30), (-1.2, 32.5)]],
    "TUN": [[(8.6, 36.9), (11, 37), (10, 34), (11.5, 33), (9.5, 30), (8, 33)]],
    "LBY": [[(9.5, 30), (11.5, 33), (15, 32.3), (19, 30.3), (20, 32.7), (25, 31.7), (25, 20), (24, 19.5), (15, 23), (12, 23.5), (9.9, 26.5)]],
    "EGY": [[(25, 31.7), (29, 31), (32, 31.2), (34.3, 31.3), (35, 29.5), (33.5, 28), (34, 27), (37, 22), (25, 22)]],
    "SDN": [[(25, 22), (37, 22), (38.5, 18), (36.5, 14.3), (34, 10), (28, 9.5), (24, 9), (22.5, 13), (24, 15.5), (24, 19.5), (25, 20)]],
    "SSD": [[(24, 9), (28, 9.5), (34, 10), (35, 6), (34, 4), (30, 3.6), (27.5, 5)]],
    "ERI": [[(36.5, 14.3), (38.5, 18), (43, 12.7), (40, 14.5)]],
    "ETH": [[(34, 10), (36.5, 14.3), (40, 14.5), (43, 12.5), (43, 11), (48, 8), (45, 5), (42, 4), (39, 3.5), (35, 5), (35, 6)]],
    "SOM": [[(43, 11), (51, 12), (49, 6), (42, -1.5), (41, -1), (41, 3), (42, 4), (45, 5), (48, 8)]],
    "KEN": [[(34, 4), (35, 5), (39, 3.5), (41, 3), (41, -1), (39.5, -4.5), (34, -1), (34, 1)]],
    "UGA": [[(30, 3.6), (34, 4), (34, 1), (34, -1), (30, -1), (29.6, 0.6)]],
    "RWA": [[(29, -1.2), (30.8, -1.2), (30.5, -4.3), (29.3, -4.3)]],
    "TZA": [[(30, -1), (34, -1), (39.5, -4.5), (39, -7), (40.4, -10.5), (35, -11.5), (33.5, -9.5), (31, -8.5), (29.3, -4.3), (30.8, -1.2)]],
    "CAF": [[(14.5, 5), (15, 7.5), (19, 9), (22.5, 11), (24, 9), (27.5, 5), (22, 4.2), (18.5, 3.6), (16, 3)]],
    "TCD": [[(15, 23), (24, 19.5), (24, 15.5), (22.5, 13), (22.5, 11), (19, 9), (15, 7.5), (14, 11), (13.5, 13.5), (15.5, 16.5)]],
    "NER": [[(3.2, 19), (6, 19.3), (12, 23.5), (15, 23), (15.5, 16.5), (13.5, 13.5), (8, 13), (3.5, 11.8), (1, 13.3), (0, 14.9), (3.5, 15.5)]],
    "MLI": [[(-12, 15), (-11.3, 12.4), (-8, 10.5), (-5, 10.8), (-4, 14), (0, 14.9), (3.5, 15.5), (3.2, 19), (1, 20.8), (-4.8, 25), (-6.5, 25), (-5.5, 15.5)]],
    "MRT": [[(-17, 21.3), (-13, 21.3), (-12, 23.4), (-12, 26), (-8.7, 26), (-8.7, 27.7), (-4.8, 25), (-6.5, 25), (-5.5, 15.5), (-12, 15), (-16.5, 16.2)]],
    "SEN": [[(-17.5, 14.7), (-16.5, 16.2), (-12, 15), (-11.3, 12.4), (-16.7, 12.4)]],
    "GNB": [[(-16.7, 12.4), (-13.7, 12.6), (-15, 11)]],
    "GIN": [[(-15, 11), (-13.7, 12.6), (-11.3, 12.4), (-8, 10.5), (-8, 8), (-10.3, 8.5), (-13, 9.5)]],
    "SLE": [[(-13, 9.5), (-10.3, 8.5), (-11, 7), (-13, 8)]],
    "LBR": [[(-11.5, 7), (-10.3, 8.5), (-8, 8), (-7.5, 4.4)]],
    "CIV": [[(-8, 8), (-8, 10.5), (-5, 10.8), (-2.8, 9.5), (-3, 5.1), (-7.5, 4.4)]],
    "BFA": [[(-5, 10.8), (-4, 14), (0, 14.9), (1, 13.3), (2.4, 11.8), (-0.1, 11), (-2.8, 9.5)]],
    "GHA": [[(-2.8, 9.5), (-0.1, 11), (1, 6.1), (-3, 4.8), (-3, 5.1)]],
    "TGO": [[(-0.1, 11), (2.4, 11.8), (3.5, 11.8), (2.7, 6.4), (1, 6.1)]],
    "NGA": [[(2.7, 6.4), (3.5, 11.8), (8, 13), (13.5, 13.5), (14, 11), (11.5, 6.7), (8.7, 4.5), (6, 4.3), (4.4, 6.3)]],
    "CMR": [[(8.7, 4.5), (11.5, 6.7), (14, 11), (15, 7.5), (14.5, 5), (16, 3), (16, 2), (9.8, 2.3)]],
    "GAB": [[(9.8, 2.3), (13.2, 2.2), (14.4, -2), (11.5, -3.7), (8.8, -0.7)]],
    "COG": [[(13.2, 2.2), (16, 2), (18.5, 3.6), (17, -1), (15.8, -4), (12, -5), (11.5, -3.7), (14.4, -2)]],
    "COD": [[(18.5, 3.6), (22, 4.2), (27.5, 5), (30, 3.6), (29.6, 0.6), (30, -1), (29, -1.2), (29.3, -4.3), (31, -8.5), (28.5, -9), (30, -13), (27, -12), (24, -11), (22, -11), (21.8, -7), (17, -7), (12.3, -6), (12, -5), (15.8, -4), (17, -1)]],
    "AGO": [[(12.3, -6), (17, -7), (21.8, -7), (22, -11), (24, -11), (22, -13), (22, -16.5), (23.4, -17.5), (18, -17.4), (11.8, -17.3), (13.7, -11), (13, -8)]],
    "ZMB": [[(24, -11), (27, -12), (30, -13), (28.5, -9), (31, -8.5), (33.5, -9.5), (33, -14), (30.2, -15.6), (27, -17.9), (25, -17.8), (23.4, -17.5), (22, -16.5), (22, -13)]],
    "MWI": [[(33.5, -9.5), (35, -11.5), (35, -17), (33, -14)]],
    "MOZ": [[(35, -11.5), (40.4, -10.5), (40.5, -15), (35, -20), (35.5, -24), (32.9, -26), (32, -24), (31, -22.3), (33, -20), (30.2, -15.6), (33, -14), (35, -17)]],
    "ZWE": [[(27, -17.9), (30.2, -15.6), (33, -20), (31, -22.3), (29, -22)]],
    "NAM": [[(11.8, -17.3), (18, -17.4), (23.4, -17.5), (25, -17.8), (21, -18.5), (21, -22), (20, -24.8), (20, -28.4), (16.5, -28.6), (14.5, -22.5)]],
    "BWA": [[(21, -18.5), (25, -17.8), (27, -17.9), (29, -22), (26.5, -24.7), (23, -25.3), (20, -24.8), (21, -22)]],
    "ZAF": [[(16.5, -28.6), (20, -28.4), (20, -24.8), (23, -25.3), (26.5, -24.7), (29, -22), (31, -22.3), (32, -24), (32.9, -26), (31, -30), (26, -33.8), (20, -34.8), (18.3, -34), (18, -31)]],
    "LSO": [[(27.2, -29.6), (28.8, -28.7), (29.4, -29.8), (28, -30.6)]],
    "MDG": [[(49.3, -12), (50.5, -15.5), (47.5, -24.8), (45, -25.5), (43.5, -22), (44.5, -16.5)]],
}


def px(x):
    return x / W


def py(y):
    return 1 - y / H


def dom_x(x0, x1):
    return [px(x0), px(x1)]


def dom_y(y0, y1):
    return [py(y1), py(y0)]


shapes = []
annotations = []


def rect(x0, y0, x1, y1, fill = None, line = None, width = 0, layer = "above"):
    shapes.append(dict(
        type = "rect", xref = "paper", yref = "paper", x0 = px(x0), x1 = px(x1), y0 = py(y0), y1 = py(y1),
        fillcolor = fill if fill else "rgba(0,0,0,0)",
        line = dict(color = line if line else "rgba(0,0,0,0)", width = width),
        layer = layer,
    ))


def seg(x0, y0, x1, y1, color = "white", width = 2, layer = "above"):
    shapes.append(dict(
        type = "line", xref = "paper", yref = "paper", x0 = px(x0), x1 = px(x1), y0 = py(y0), y1 = py(y1),
        line = dict(color = color, width = width), layer = layer,
    ))


def pill(x0, y0, x1, y1, r, fill = "#2a2a2a", line = "#b0b0b0", width = 2):
    p = lambda x, y: f"{px(x):.6f},{py(y):.6f}"
    path = (
        f"M{p(x0 + r, y0)} L{p(x1 - r, y0)} Q{p(x1, y0)} {p(x1, y0 + r)} L{p(x1, y1 - r)} Q{p(x1, y1)} {p(x1 - r, y1)} "
        f"L{p(x0 + r, y1)} Q{p(x0, y1)} {p(x0, y1 - r)} L{p(x0, y0 + r)} Q{p(x0, y0)} {p(x0 + r, y0)} Z"
    )
    shapes.append(dict(type = "path", xref = "paper", yref = "paper", path = path, fillcolor = fill, line = dict(color = line, width = width), layer = "above"))


def chevron(cx, cy, w = 8, h = 5, color = "white", width = 2.5):
    p = lambda x, y: f"{px(x):.6f},{py(y):.6f}"
    shapes.append(dict(type = "path", xref = "paper", yref = "paper", path = f"M{p(cx - w, cy - h)} L{p(cx, cy + h)} L{p(cx + w, cy - h)}", line = dict(color = color, width = width), layer = "above"))


def dot(cx, cy, r, fill, line = None, width = 0):
    shapes.append(dict(
        type = "circle", xref = "paper", yref = "paper", x0 = px(cx - r), x1 = px(cx + r), y0 = py(cy - r), y1 = py(cy + r),
        fillcolor = fill, line = dict(color = line if line else "rgba(0,0,0,0)", width = width), layer = "above",
    ))


def label(x, y, text, size = 22, color = "white", anchor = "left", weight = 400, angle = 0):
    annotations.append(dict(
        xref = "paper", yref = "paper", x = px(x), y = py(y), text = text, showarrow = False,
        xanchor = anchor, yanchor = "middle", textangle = angle,
        font = dict(family = FONT, size = size, color = color, weight = weight),
    ))


def densify(ring, step = 2.0):
    out = []
    closed = ring + [ring[0]]
    for (x0, y0), (x1, y1) in zip(closed[:-1], closed[1:]):
        n = max(1, int(max(abs(x1 - x0), abs(y1 - y0)) / step))
        for k in range(n):
            out.append((x0 + (x1 - x0) * k / n, y0 + (y1 - y0) * k / n))
    out.append(closed[-1])
    return out


def clockwise(ring):
    area = sum((b[0] - a[0]) * (b[1] + a[1]) for a, b in zip(ring[:-1], ring[1:]))
    return ring if area > 0 else ring[::-1]


fig = go.Figure()

# map, one trace per colour class
def map_class(value):
    for k in range(len(map_colors)):
        if value < map_breaks[k + 1]:
            return k
    return len(map_colors) - 1


for k in [None, 0, 1, 2, 3, 4, 5]:
    lons = []
    lats = []
    for code, rings in outlines.items():
        value = disorders.get(code)
        if (value is None and k is None) or (value is not None and map_class(value) == k):
            for ring in rings:
                points = clockwise(densify(ring))
                lons += [q[0] for q in points] + [None]
                lats += [q[1] for q in points] + [None]
    fig.add_trace(go.Scattergeo(
        lon = lons, lat = lats, mode = "lines", fill = "toself",
        fillcolor = map_missing if k is None else map_colors[k],
        line = dict(color = "rgba(120,110,125,0.7)", width = 0.8),
        showlegend = False, hoverinfo = "skip",
    ))

# 1st population ages
base_15_64 = age_00_14
base_over_65 = [a + b for a, b in zip(age_00_14, age_15_64)]
for values, base, color in [(age_00_14, None, "#e5f5f9"), (age_15_64, base_15_64, "#99d8c9"), (age_over_65, base_over_65, "#2ca25f")]:
    fig.add_trace(go.Bar(
        y = countries, x = values, base = base, orientation = "h", width = 0.75, cliponaxis = False,
        marker = dict(color = color, line = dict(width = 0)), xaxis = "x", yaxis = "y", showlegend = False,
    ))

# 2nd population sex
fig.add_trace(go.Bar(x = countries, y = sex_male, width = 0.23, offset = -0.23, cliponaxis = False, marker = dict(color = "#31a354", line = dict(width = 0)), xaxis = "x2", yaxis = "y2", showlegend = False))
fig.add_trace(go.Bar(x = countries, y = sex_female, width = 0.23, offset = 0, cliponaxis = False, marker = dict(color = "#addd8e", line = dict(width = 0)), xaxis = "x2", yaxis = "y2", showlegend = False))

# 3rd health expenditure
for values in health_lines:
    fig.add_trace(go.Scatter(
        x = years, y = values, mode = "lines+markers", cliponaxis = False,
        line = dict(color = "#bdbdbd", width = 3.5, shape = "spline", smoothing = 1),
        marker = dict(color = "#bdbdbd", size = 11),
        xaxis = "x3", yaxis = "y3", showlegend = False,
    ))

# ranking bars
fig.add_trace(go.Bar(
    y = list(range(len(ranking))), x = ranking, orientation = "h", width = 0.8,
    marker = dict(color = "#b4b4b4", line = dict(width = 0)), xaxis = "x4", yaxis = "y4", showlegend = False,
))

# parallel coordinates, first the real axes
axis_ids = [5, 6, 7, 8, 9, 10, 11, 12, 13]
for i, (name, axis_id) in enumerate(zip(dimensions, axis_ids)):
    fig.add_trace(go.Scatter(
        x = [i] * len(parallel_lines), y = [row[i] for row in parallel_lines], mode = "markers",
        marker = dict(opacity = 0), xaxis = "x5", yaxis = f"y{axis_id}", showlegend = False, hoverinfo = "skip", name = name,
    ))

# then the lines on a hidden 0-1 axis
for row, color in zip(parallel_lines, parallel_colors):
    scaled = [(value - lo) / (hi - lo) for value, (lo, hi) in zip(row, dim_ranges)]
    fig.add_trace(go.Scatter(
        x = list(range(len(dimensions))), y = scaled, mode = "lines", cliponaxis = False,
        line = dict(color = color, width = 2.6), xaxis = "x5", yaxis = "y14", showlegend = False,
    ))

# tsne scatter
for xs, ys, color in zip([cluster_1_x, cluster_2_x, cluster_3_x, cluster_4_x], [cluster_1_y, cluster_2_y, cluster_3_y, cluster_4_y], cluster_colors):
    fig.add_trace(go.Scatter(
        x = xs, y = ys, mode = "markers", marker = dict(color = color, size = 11, opacity = 0.85),
        xaxis = "x6", yaxis = "y15", showlegend = False,
    ))

axis_style = dict(
    showline = True, linecolor = "white", linewidth = 2.5, ticks = "outside", tickcolor = "white", tickwidth = 2.5,
    showgrid = False, zeroline = False, automargin = False, tickfont = dict(family = FONT, size = 22, color = "white"),
)

layout_axes = dict(
    xaxis = dict(axis_style, domain = dom_x(2143.5, 2758.6), range = [0, 100], anchor = "y", tickmode = "array", tickvals = age_ticks, ticktext = age_tick_labels,
                 tickangle = 90, ticklen = 14, ticklabelstandoff = 4, tickfont = dict(family = FONT, size = 19, color = "white"), showgrid = True, gridcolor = "#444444", gridwidth = 2),
    yaxis = dict(axis_style, domain = dom_y(230, 537), type = "category", categoryorder = "array", categoryarray = countries, range = [9.8, -0.433], anchor = "x", ticklen = 15, ticklabelstandoff = 4,
                 tickmode = "array", tickvals = countries, ticktext = [f'<span style="font-size:16px">{c}</span>' if c == "Switzerland" else c for c in countries]),
    xaxis2 = dict(axis_style, domain = dom_x(2897, 3520), type = "category", categoryorder = "array", categoryarray = countries, range = [-0.215, 9.355], anchor = "y2", ticklen = 13, tickangle = 45,
                  ticklabelshift = -15, ticklabelstandoff = -18, tickfont = dict(family = FONT, size = 23, color = "white"),
                  tickmode = "array", tickvals = countries, ticktext = [f'<span style="font-size:18px">{c}</span>' if c == "Switzerland" else c for c in countries]),
    yaxis2 = dict(axis_style, domain = dom_y(228.3, 532.7), range = [0, 20], anchor = "x2", dtick = 2, ticklen = 15, showgrid = True, gridcolor = "#444444", gridwidth = 3),
    xaxis3 = dict(axis_style, domain = dom_x(2134, 3514), range = [2010, 2019], dtick = 1, anchor = "free", position = py(989), ticklen = 14),
    yaxis3 = dict(axis_style, domain = dom_y(702, 993.3), range = [0, 12], dtick = 1, anchor = "x3", ticklen = 16),
    xaxis4 = dict(domain = dom_x(3574, 3800), range = [2200, 0], anchor = "y4", visible = False, automargin = False),
    yaxis4 = dict(domain = dom_y(153.7, 1037), range = [len(ranking) - 0.5, -0.5], anchor = "x4", visible = False, automargin = False),
    xaxis5 = dict(domain = dom_x(163, 1906), range = [0, 8], anchor = "y5", visible = False, automargin = False),
    yaxis14 = dict(domain = dom_y(1181.6, 1788), range = [0, 1], overlaying = "y5", anchor = "x5", visible = False, automargin = False),
    xaxis6 = dict(axis_style, domain = dom_x(2088, 3551), range = [-10.37, 11.57], anchor = "y15", ticklen = 14, ticklabelstandoff = -2,
                  tickmode = "array", tickvals = [-10.37, -10.14] + list(range(-10, 12)), ticktext = ["", ""] + [str(v) for v in range(-10, 12)],
                  tickfont = dict(family = FONT, size = 23, color = "white", weight = 700)),
    yaxis15 = dict(axis_style, domain = dom_y(1083, 1738), range = [-12.6, 11.02], anchor = "free", position = px(2103.4), ticklen = 17,
                   tickmode = "array", tickvals = [11.02] + list(range(-12, 11, 2)), ticktext = [""] + [str(v) for v in range(-12, 11, 2)],
                   tickfont = dict(family = FONT, size = 23, color = "white", weight = 700)),
)

axis_positions = [163, 381, 599, 816.5, 1034, 1252, 1470, 1688, 1906]
for i, axis_id in enumerate(axis_ids):
    lo, hi = dim_ranges[i]
    axis = dict(
        axis_style, domain = dom_y(1181.6, 1788), range = [lo, hi], anchor = "free", position = px(axis_positions[i]), ticklen = 16, side = "left",
        tickmode = "array", tickvals = [lo] + dim_ticks[i] + [hi], ticktext = [""] + [f"{v:,}" for v in dim_ticks[i]] + [""],
    )
    if axis_id != 5:
        axis["overlaying"] = "y5"
    layout_axes[f"yaxis{axis_id}"] = axis
    label(axis_positions[i], 1153, dimensions[i], size = 20, anchor = "center")

# page chrome
rect(0, 0, W, 2.5, fill = "#3b2f6e", layer = "below")
rect(5, 135, 2009, 1051, fill = "#a0c1d5", layer = "below")

for x0, y0, x1, y1 in [(4, 134, 2010, 1052), (2012, 134, 2791, 636), (2792, 134, 3570, 636), (2012, 637, 3570, 1052), (3570, 134, 3803, 1053), (4, 1056, 2009, 1826), (2010, 1056, 3803, 1826)]:
    rect(x0, y0, x1, y1, line = "#a9a9a9", width = 4)
    seg(x0, y1, x1, y1, color = "white", width = 4)

# header
label(4, 50, "MentalHealth Analyzer", size = 48)
pill(1152, 23, 1770, 84, 28)
label(1209, 53, "DISORDES EACH 100K PEOPLE", size = 30)
chevron(1748, 53, w = 8, h = 6)
pill(1796, 23, 2283, 84, 28)
label(1860, 53, "CHOOSE DISORDERS", size = 30)
chevron(2257, 53, w = 8, h = 6)
label(2465, 35, "Select Years:", size = 31)
pill(2473, 54, 3268, 69, 7, fill = "#eeeeee", line = "#999999", width = 2)
dot(3247.6, 62, 20, "white", line = "#999999", width = 2)
for i, year in enumerate(years):
    tick_x = 2501 + i * 83.3
    seg(tick_x, 80, tick_x, 94, color = "#dddddd", width = 1.5)
    label(tick_x, 107, str(year), size = 22, anchor = "center")
pill(3315, 35, 3406, 98, 31, fill = BG)
label(3360, 57, "RESET", size = 21, anchor = "center")
label(3360, 83, "ALL", size = 21, anchor = "center")

# map controls and legend
pill(29.5, 157, 90, 281, 10, fill = "#f5f5f5", line = "#b5b5b5", width = 3)
seg(29.5, 220, 90, 220, color = "#b5b5b5", width = 3)
label(59, 192, "+", size = 36, color = "#111111", anchor = "center")
label(59, 252, "-", size = 36, color = "#111111", anchor = "center")
label(290, 957, "NUMBER OF DISORDERS", size = 22, color = "#111111", anchor = "center")
swatch_edges = [52.4, 125.2, 197.5, 270.5, 343.2, 416, 489]
for k, color in enumerate(map_colors):
    rect(swatch_edges[k], 976, swatch_edges[k + 1], 997, fill = color)
for text, x in zip(map_break_labels, [52.4, 123, 193, 263, 333, 402.6, 442.8]):
    label(x, 1013, text, size = 18, color = "#222222")

# population ages header
pill(2034, 149, 2204, 181, 14, fill = "#2a2a2a")
label(2055, 165, "ORDERBY", size = 17)
chevron(2181, 165, w = 6, h = 4)
pill(2316, 145, 2352, 176, 4, fill = BG, line = "#444444", width = 5)
label(2362, 162, "Label", size = 22)
for x0, color, text in [(2445, "#e5f5f9", "00-14"), (2557.6, "#99d8c9", "15-64"), (2670, "#2ca25f", "> 65")]:
    rect(x0, 154, x0 + 32.5, 170, fill = color)
    label(x0 + 37.5, 161, text, size = 20)
label(2147.5, 210, "Population Ages", size = 23.5)
seg(2128, 230, 2143.5, 230)
seg(2128, 536, 2143.5, 536)

# population sex header
rect(3311, 154, 3344, 170, fill = "#31a354")
label(3347, 161, "male", size = 20)
rect(3423, 154, 3456, 170, fill = "#addd8e")
label(3461, 161, "female", size = 20)
label(2902, 208, "% of Population Sex", size = 22, weight = 700)
seg(2897, 532.7, 2897, 546)
seg(3520, 532.7, 3520, 546)

label(2138, 672, "Current health expenditure (% of GDP)", size = 22, weight = 700)

# brush over the ranking
rect(3574, 149.5, 3801, 198.5, fill = "rgba(112,112,112,0.35)", line = "white", width = 3.5)

# tsne controls
label(2812, 1793, "Tsne Component 1", size = 22, anchor = "center")
label(2029, 1409.5, "Tsne Component 2", size = 22, anchor = "center", angle = -90)
pill(3568, 1075, 3781, 1137, 30)
label(3580, 1107, "CLUSTERS", size = 21)
chevron(3757, 1107, w = 8, h = 5)
for name, color, y in zip(cluster_names, cluster_colors, [1174, 1228, 1281, 1335]):
    dot(3587.6, y, 12.4, color)
    label(3634, y + 1, name, size = 23)
label(3549.5, 1500, "#Clusters:", size = 25)
rect(3720, 1480, 3798, 1518, fill = "#2a2a2a")
seg(3720, 1518, 3798, 1518, color = "#cccccc", width = 1.5)
label(3730, 1498, "4", size = 23)
chevron(3775, 1499, w = 8, h = 4)
label(3550, 1553, "Sex:", size = 25)
rect(3618, 1530, 3796, 1568, fill = "#2a2a2a")
seg(3618, 1568, 3796, 1568, color = "#cccccc", width = 1.5)
label(3628, 1549, "BOTH", size = 23)
chevron(3773, 1549, w = 8, h = 4)
label(3550, 1606, "Pop Age:", size = 25)
rect(3666, 1584, 3781, 1621, fill = "#2a2a2a")
seg(3666, 1621, 3781, 1621, color = "#cccccc", width = 1.5)
label(3676, 1603, "AGES", size = 22)
chevron(3758, 1603, w = 8, h = 4)
pill(3605, 1647, 3737, 1703, 27)
label(3671, 1676, "COMPUTE", size = 21, anchor = "center")

fig.update_layout(
    template = "none",
    width = W,
    height = H,
    margin = dict(l = 0, r = 0, t = 0, b = 0),
    autosize = False,
    paper_bgcolor = BG,
    plot_bgcolor = "rgba(0,0,0,0)",
    barmode = "overlay",
    showlegend = False,
    font = dict(family = FONT, color = "white"),
    shapes = shapes,
    annotations = annotations,
    geo = dict(
        domain = dict(x = dom_x(970 - 943.5, 970 + 943.5), y = dom_y(163.4, 1144.6)),
        projection = dict(type = "natural earth"),
        lonaxis = dict(range = [-180, 180], showgrid = False),
        lataxis = dict(range = [-90, 90], showgrid = False),
        showland = False, showocean = False, showlakes = False, showrivers = False,
        showcountries = False, showcoastlines = False, showframe = False, showsubunits = False,
        bgcolor = "rgba(0,0,0,0)",
    ),
    **layout_axes,
)

fig.write_html(
    "out.html",
    config = dict(displayModeBar = False),
    post_script = "document.body.style.margin='0';document.body.style.background='#202124';document.body.style.overflow='hidden';",
)
